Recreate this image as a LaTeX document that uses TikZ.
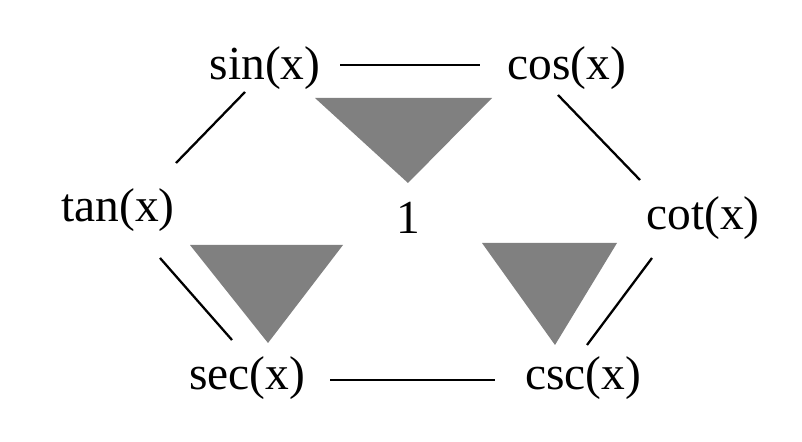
\documentclass[tikz,border=0pt]{standalone}
\usepackage{fontspec}
\setmainfont{Liberation Serif}
\begin{document}
\begin{tikzpicture}[x=0.02cm,y=-0.02cm,
  lbl/.style={font=\fontsize{27}{29}\selectfont,inner sep=0pt},
  conn/.style={line width=1.3pt},
  tri/.style={fill=gray,draw=none}]
\useasboundingbox (0,0) rectangle (802,442);
\node[lbl] (sin) at (265,68) {sin(x)};
\node[lbl] (cos) at (567,68) {cos(x)};
\node[lbl] (tan) at (118,210) {tan(x)};
\node[lbl] (one) at (408,218) {1};
\node[lbl] (cot) at (703,218) {cot(x)};
\node[lbl] (sec) at (247,378) {sec(x)};
\node[lbl] (csc) at (583,378) {csc(x)};
\coordinate (a1) at (340,65); \coordinate (a2) at (480,65);
\coordinate (b1) at (245,92); \coordinate (b2) at (176,163);
\coordinate (c1) at (558,95); \coordinate (c2) at (640,180);
\coordinate (d1) at (160,258); \coordinate (d2) at (232,340);
\coordinate (e1) at (652,258); \coordinate (e2) at (587,345);
\coordinate (f1) at (330,380); \coordinate (f2) at (495,380);
\draw[conn] (a1) -- (a2);
\draw[conn] (b1) -- (b2);
\draw[conn] (c1) -- (c2);
\draw[conn] (d1) -- (d2);
\draw[conn] (e1) -- (e2);
\draw[conn] (f1) -- (f2);
\fill[tri] (315,98) -- (492,98) -- (408,183) -- cycle;
\fill[tri] (190,245) -- (343,245) -- (268,343) -- cycle;
\fill[tri] (482,243) -- (617,243) -- (555,345) -- cycle;
\end{tikzpicture}
\end{document}
